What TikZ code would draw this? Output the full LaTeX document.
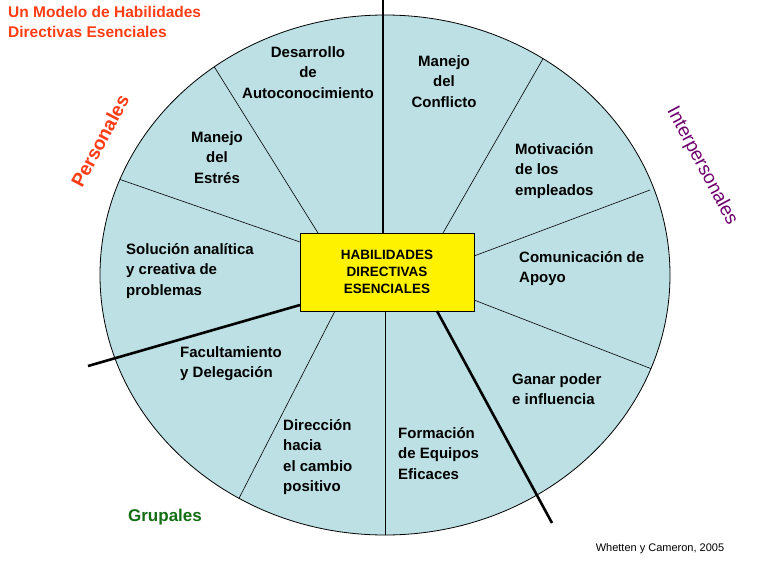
\documentclass[tikz,border=0pt]{standalone}
\usepackage{fontspec}
\setmainfont{Liberation Sans}
\usetikzlibrary{shapes.geometric}
\begin{document}
\begin{tikzpicture}[x=1pt,y=-1pt,
  lbl/.style={font=\bfseries\fontsize{15}{20.5}\selectfont,align=left,anchor=north west,inner sep=0},
  clbl/.style={font=\bfseries\fontsize{15}{20.5}\selectfont,align=center,anchor=north,inner sep=0},
  thin/.style={black,line width=0.6pt},
  thick/.style={black,line width=2.6pt}]
\definecolor{sky}{RGB}{188,224,228}
\definecolor{ored}{RGB}{255,60,20}
\definecolor{purp}{RGB}{110,0,110}
\definecolor{grn}{RGB}{20,110,20}
\useasboundingbox (0,0) rectangle (768,576);
\node[ellipse,draw,fill=sky,line width=0.8pt,minimum width=570pt,minimum height=520pt,inner sep=0] (ell) at (385,275) {};
\begin{scope}
\clip (385,275) ellipse [x radius=285, y radius=260];
\coordinate (a1) at (210,60); \coordinate (b1) at (318,233);
\coordinate (a2) at (110,176); \coordinate (b2) at (300,242);
\coordinate (a3) at (548,50); \coordinate (b3) at (443,233);
\coordinate (a4) at (650,190); \coordinate (b4) at (474,256);
\coordinate (a5) at (670,376); \coordinate (b5) at (474,300);
\coordinate (a6) at (233,510); \coordinate (b6) at (335,311);
\coordinate (a7) at (385,540); \coordinate (b7) at (385,311);
\draw[thin] (b1)--(a1); \draw[thin] (b2)--(a2); \draw[thin] (b3)--(a3);
\draw[thin] (b4)--(a4); \draw[thin] (b5)--(a5); \draw[thin] (b6)--(a6); \draw[thin] (b7)--(a7);
\end{scope}
\node[draw,fill=yellow,line width=0.8pt,minimum width=174pt,minimum height=78pt,
  font=\bfseries\fontsize{13.5}{17}\selectfont,align=center] (box) at (387,272) {HABILIDADES\\DIRECTIVAS\\ESENCIALES};
\coordinate (t1) at (383,0); \coordinate (t2) at (88,366); \coordinate (t3) at (552,523);
\coordinate (s1) at (383,233); \coordinate (s2) at (300,305); \coordinate (s3) at (437,311);
\draw[thick] (t1)--(s1);
\draw[thick] (s2)--(t2);
\draw[thick] (s3)--(t3);
\node[clbl] (n1) at (308,46) {Desarrollo\\de\\Autoconocimiento};
\node[clbl] (n2) at (217,131) {Manejo\\del\\Estrés};
\node[lbl] (n3) at (126,243) {Solución analítica\\y creativa de\\problemas};
\node[lbl] (n4) at (180,346) {Facultamiento\\y Delegación};
\node[lbl] (n5) at (283,419) {Dirección\\hacia\\el cambio\\positivo};
\node[lbl] (n6) at (398,427) {Formación\\de Equipos\\Eficaces};
\node[lbl] (n7) at (512,373) {Ganar poder\\e influencia};
\node[lbl] (n8) at (519,251) {Comunicación de\\Apoyo};
\node[lbl] (n9) at (515,143) {Motivación\\de los\\empleados};
\node[clbl] (n10) at (444,55) {Manejo\\del\\Conflicto};
\node[font=\bfseries\fontsize{15.5}{20}\selectfont,text=ored,align=left,anchor=north west,inner sep=0] (title) at (8,6) {Un Modelo de Habilidades\\Directivas Esenciales};
\node[font=\bfseries\fontsize{19}{22}\selectfont,text=ored,rotate=62] (pers) at (100,141) {Personales};
\node[font=\fontsize{19}{22}\selectfont,text=purp,rotate=-62] (inter) at (702,166) {Interpersonales};
\node[font=\bfseries\fontsize{17}{20}\selectfont,text=grn] (grup) at (165,517) {Grupales};
\node[font=\fontsize{11}{13}\selectfont] (cite) at (660,549) {Whetten y Cameron, 2005};
\end{tikzpicture}
\end{document}
